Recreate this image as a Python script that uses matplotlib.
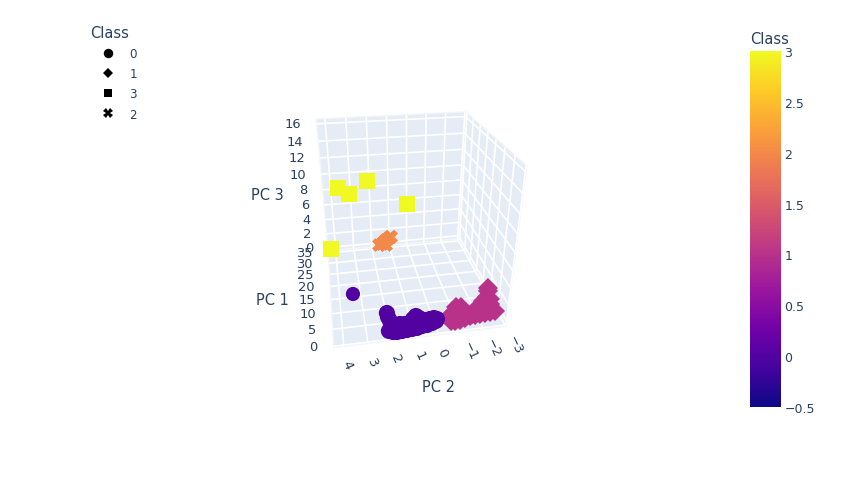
#!/usr/bin/env python3
import matplotlib
matplotlib.use('Agg')
import matplotlib.pyplot as plt
from matplotlib.colors import LinearSegmentedColormap, Normalize
from matplotlib.cm import ScalarMappable
from matplotlib.lines import Line2D
from mpl_toolkits.mplot3d import proj3d

# %% data
class0_pc2 = [3.37, 2.07, 1.91, 1.74, 1.53, 1.31, 1.09, 0.87, 0.63, 0.41, 0.17, -0.03, -0.11, 1.76,
              1.54, 1.32, 1.10, 0.88, 0.65, 0.42, 0.19, 0.01, 1.99, 1.98, 1.93, 0.76, 0.92, 0.65]
class0_pc1 = [14.78, 1.28, 0.85, 0.71, 0.82, 0.93, 1.05, 1.17, 1.58, 1.70, 2.12, 2.58, 3.15, 2.85,
              2.97, 2.79, 2.91, 3.04, 3.16, 3.28, 3.41, 3.57, 6.90, 5.58, 4.25, 4.86, 4.03, 4.12]
class0_pc3 = [0.0] * 28

class1_pc2 = [-0.68, -0.85, -1.08, -1.33, -1.59, -1.83, -2.06, -2.30, -2.55, -2.79, -0.78, -0.99, -1.15, -1.27,
              -1.36, -1.72, -1.93, -2.20, -2.47, -2.74, -2.49, -2.77, -2.97, -3.05, -2.68, -2.86, -1.37, -0.66]
class1_pc1 = [2.03, 1.88, 2.01, 2.43, 2.87, 2.99, 3.12, 3.24, 3.37, 3.50, 3.88, 4.36, 6.26, 5.13,
              4.38, 3.41, 4.57, 5.03, 5.49, 5.95, 7.22, 8.44, 10.51, 11.60, 7.79, 7.63, 6.07, 3.33]
class1_pc3 = [0.0] * 28

class2_pc2 = [1.62, 1.23, 1.45, 1.34, 1.23, 1.11, 1.00, 0.94]
class2_pc1 = [34.0] * 8
class2_pc3 = [0.27, 0.18, 0.38, 0.64, 0.91, 1.03, 1.29, 1.28]

class3_pc2 = [3.64, 3.11, 2.19, 0.16, 4.24]
class3_pc1 = [31.0] * 5
class3_pc3 = [9.16, 8.31, 9.77, 6.45, 1.20]

pc2_ticks = [4, 3, 2, 1, 0, -1, -2, -3]
pc1_ticks = [0, 5, 10, 15, 20, 25, 30, 35]
pc3_ticks = [0, 2, 4, 6, 8, 10, 12, 14, 16]
cbar_ticks = [-0.5, 0, 0.5, 1, 1.5, 2, 2.5, 3]
cbar_labels = ['\u22120.5', '0', '0.5', '1', '1.5', '2', '2.5', '3']
legend_labels = ['0', '1', '3', '2']

pc2_lim = (4.41, -3.05)
pc1_lim = (-0.4, 36.0)
pc3_lim = (-0.5, 16.55)

# plotly's plasma
plasma = ['#0d0887', '#46039f', '#7201a8', '#9c179e', '#bd3786',
          '#d8576b', '#ed7953', '#fb9f3a', '#fdca26', '#f0f921']
cmap = LinearSegmentedColormap.from_list('plasma_px', plasma)
norm = Normalize(-0.5, 3)

W, H = 851, 489
text_color = '#2a3f5f'


def px_rect(left, top, width, height):
    return [left / W, 1 - (top + height) / H, width / W, height / H]


def px_text(x, y, s, **kw):
    fig.text(x / W, 1 - y / H, s, color=text_color, **kw)


def box_to_px(x, y, z):
    # where a box point lands in the picture, y measured from the top
    u, v, _ = proj3d.proj_transform(x, y, z, ax.get_proj())
    px, py = ax.transData.transform((u, v))
    return px, H - py


# %% figure
plt.rcParams['grid.color'] = 'white'
plt.rcParams['grid.linewidth'] = 1.2
fig = plt.figure(figsize=(W / 100, H / 100), dpi=100)

size = 276.3
ax = fig.add_axes([264.84 / W, 128.69 / H, size / W, size / H], projection='3d', computed_zorder=False)
ax.set_facecolor('none')
ax.set_xlim(*pc2_lim, view_margin=0)
ax.set_ylim(*pc1_lim, view_margin=0)
ax.set_zlim(*pc3_lim, view_margin=0)
ax.view_init(elev=27.425, azim=-100.19)
ax.set_proj_type('persp', focal_length=0.311)
ax.set_box_aspect((1, 1.03, 0.995))
ax.apply_aspect()

ax.set_xticks(pc2_ticks)
ax.set_yticks(pc1_ticks)
ax.set_zticks(pc3_ticks)
ax.set_xticklabels([])
ax.set_yticklabels([])
ax.set_zticklabels([])
for axis in (ax.xaxis, ax.yaxis, ax.zaxis):
    axis.set_pane_color('#e5ecf6')
    axis.pane.set_edgecolor('#f2f5fa')
    axis.line.set_color((1, 1, 1, 0))
    axis._axinfo['tick']['inward_factor'] = 0
    axis._axinfo['tick']['outward_factor'] = 0

ax.scatter(class1_pc2, class1_pc1, class1_pc3, c=[1] * len(class1_pc2), cmap=cmap, norm=norm,
           marker='D', s=104, linewidths=0, depthshade=False, zorder=2)
# the reference draws nearer markers a little bigger, the first point here is the far one
ax.scatter(class0_pc2, class0_pc1, class0_pc3, c=[0] * len(class0_pc2), cmap=cmap, norm=norm,
           marker='o', s=[104] + [135] * (len(class0_pc2) - 1), linewidths=0, depthshade=False, zorder=3)
ax.scatter(class3_pc2, class3_pc1, class3_pc3, c=[3] * len(class3_pc2), cmap=cmap, norm=norm,
           marker='s', s=128, linewidths=0, depthshade=False, zorder=4)
ax.scatter(class2_pc2, class2_pc1, class2_pc3, c=[2] * len(class2_pc2), cmap=cmap, norm=norm,
           marker='X', s=100, linewidths=0, depthshade=False, zorder=4)

# tick labels sit off the box edges, as plotly puts them
tick_size = 9.4
for v in pc2_ticks:
    px, py = box_to_px(v, pc1_lim[0], pc3_lim[0])
    px_text(px + (9 if v < 0 else 4), py + 18, str(v).replace('-', '\u2212'), fontsize=tick_size,
            rotation=-65, ha='center', va='center')
for v in pc1_ticks:
    px, py = box_to_px(pc2_lim[0], v, pc3_lim[0])
    px_text(px - 16, py, str(v), fontsize=tick_size, ha='right', va='center')
for v in pc3_ticks:
    px, py = box_to_px(pc2_lim[0], pc1_lim[1], v)
    px_text(px - 15, py, str(v), fontsize=tick_size, ha='right', va='center')

px_text(267, 196, 'PC 3', fontsize=10.5, ha='center', va='center')
px_text(272, 301, 'PC 1', fontsize=10.5, ha='center', va='center')
px_text(438, 388, 'PC 2', fontsize=10.5, ha='center', va='center')

# %% colour bar
cax = fig.add_axes(px_rect(750, 52, 31, 356))
cbar = fig.colorbar(ScalarMappable(norm=norm, cmap=cmap), cax=cax, ticks=cbar_ticks)
cbar.ax.set_yticklabels(cbar_labels)
cbar.ax.tick_params(length=0, pad=2.5, labelsize=9.0, labelcolor=text_color)
cbar.outline.set_visible(False)
px_text(750, 39, 'Class', fontsize=10.5, ha='left', va='center')

# %% legend
handles = [Line2D([], [], ls='none', color='black', marker=m, markersize=ms, markeredgewidth=0)
           for m, ms in zip(['o', 'D', 's', 'X'], [6.8, 5.4, 6.2, 7.0])]
leg = fig.legend(handles, legend_labels, title='Class', loc='upper left',
                 bbox_to_anchor=(90 / W, 1 - 26 / H), frameon=False, fontsize=8.6,
                 title_fontsize=10.5, alignment='left', borderpad=0, borderaxespad=0,
                 handlelength=3.0, handletextpad=0.3, labelspacing=0.6, labelcolor=text_color)
leg.get_title().set_color(text_color)

fig.savefig('out.png', dpi=100, facecolor='white')
